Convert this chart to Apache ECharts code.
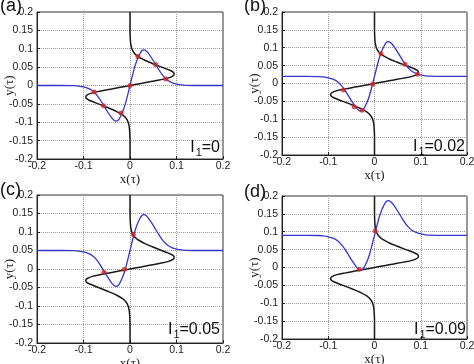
<!DOCTYPE html>
<html>
<head>
<meta charset="utf-8">
<script src="https://cdn.jsdelivr.net/npm/echarts@6/dist/echarts.min.js"></script>
<style>
html,body{margin:0;padding:0;background:#fff;}
#c{width:474px;height:364px;}
</style>
</head>
<body>
<div id="c"></div>
<script>
// ---- data ----
const xTickLabels = [-0.2, -0.1, 0, 0.1, 0.2];
const yTickLabels = [-0.2, -0.15, -0.1, -0.05, 0, 0.05, 0.1, 0.15, 0.2];
const panelLabels = ['(a)', '(b)', '(c)', '(d)'];
const I1Values = ['0', '0.02', '0.05', '0.09'];

// blue curve y(x) in each panel
const blueX = [-0.2,-0.15,-0.12,-0.11,-0.1,-0.09,-0.08,-0.07,-0.06,-0.05,-0.04,-0.035,-0.03,-0.025,-0.02,-0.015,-0.01,0,0.01,0.015,0.02,0.025,0.03,0.035,0.04,0.05,0.06,0.07,0.08,0.09,0.1,0.11,0.12,0.15,0.2];
const blueA = [0,0,-0.0005,-0.0015,-0.004,-0.008,-0.015,-0.028,-0.047,-0.068,-0.087,-0.094,-0.097,-0.094,-0.083,-0.069,-0.05,0,0.05,0.069,0.083,0.094,0.097,0.094,0.087,0.068,0.047,0.028,0.015,0.008,0.004,0.0015,0.0005,0,0];
const blueB = [0.02,0.02,0.0195,0.0185,0.016,0.012,0.005,-0.008,-0.027,-0.048,-0.067,-0.074,-0.077,-0.074,-0.063,-0.049,-0.03,0.02,0.07,0.089,0.103,0.114,0.117,0.114,0.107,0.088,0.067,0.048,0.035,0.028,0.024,0.0215,0.0205,0.02,0.02];
const blueC = [0.05,0.05,0.0495,0.0485,0.046,0.042,0.035,0.022,0.003,-0.018,-0.037,-0.044,-0.047,-0.044,-0.033,-0.019,0,0.05,0.1,0.119,0.133,0.144,0.147,0.144,0.137,0.118,0.097,0.078,0.065,0.058,0.054,0.0515,0.0505,0.05,0.05];
const blueD = [0.09,0.09,0.0895,0.0885,0.086,0.082,0.075,0.062,0.043,0.022,0.003,-0.004,-0.007,-0.004,0.007,0.021,0.04,0.09,0.14,0.159,0.173,0.184,0.187,0.184,0.177,0.158,0.137,0.118,0.105,0.098,0.094,0.0915,0.0905,0.09,0.09];

// black curve x(y), same in all panels
const blackY = [-0.2,-0.15,-0.13,-0.12,-0.11,-0.1,-0.09,-0.08,-0.07,-0.06,-0.05,-0.04,-0.035,-0.03,-0.025,-0.02,-0.015,-0.01,-0.005,0,0.005,0.01,0.015,0.02,0.025,0.03,0.035,0.04,0.05,0.06,0.07,0.08,0.09,0.1,0.11,0.12,0.13,0.15,0.2];
const blackX = [0,0,-0.0005,-0.001,-0.002,-0.004,-0.008,-0.016,-0.03,-0.048,-0.068,-0.088,-0.094,-0.095,-0.091,-0.081,-0.063,-0.042,-0.021,0,0.021,0.042,0.063,0.081,0.091,0.095,0.094,0.088,0.068,0.048,0.03,0.016,0.008,0.004,0.002,0.001,0.0005,0,0];

// red intersection dots
const redXa = [0.017,0.055,0.077,0,-0.077,-0.057,-0.019];
const redYa = [0.079,0.057,0.018,0,-0.018,-0.055,-0.075];
const redXb = [0.014,0.066,0.093,-0.004,-0.067,-0.044,-0.027];
const redYb = [0.083,0.054,0.026,-0.002,-0.018,-0.065,-0.075];
const redXc = [0.007,-0.012,-0.056];
const redYc = [0.093,-0.001,-0.009];
const redXd = [0.0015,-0.033];
const redYd = [0.102,-0.005];

const blues = [blueA, blueB, blueC, blueD];
const redsX = [redXa, redXb, redXc, redXd];
const redsY = [redYa, redYb, redYc, redYd];

// ---- layout ----
const grids = [
  {left: 37, top: 12, width: 186, height: 147},
  {left: 282, top: 12, width: 185, height: 143},
  {left: 37, top: 195, width: 186, height: 148},
  {left: 282, top: 196, width: 185, height: 143}
];
const labelFont = 'Liberation Sans, Arial, sans-serif';
const zip = (a, b) => a.map((v, i) => [v, b[i]]);
const fmt = v => String(parseFloat(Number(v).toFixed(2)));

const option = {
  animation: false,
  backgroundColor: '#fff',
  grid: grids.map(g => Object.assign({show: true, borderColor: '#333', borderWidth: 1, backgroundColor: 'transparent', containLabel: false, outerBoundsMode: 'none'}, g)),
  xAxis: grids.map((g, i) => ({
    type: 'value', gridIndex: i,
    min: xTickLabels[0], max: xTickLabels[xTickLabels.length - 1],
    interval: xTickLabels[1] - xTickLabels[0],
    name: 'x(τ)', nameLocation: 'middle', nameGap: 9,
    nameTextStyle: {fontFamily: 'Liberation Serif, Times New Roman, serif', fontSize: 13, color: '#222'},
    axisLine: {show: true, onZero: false, lineStyle: {color: '#222', width: 1}},
    axisTick: {show: true, inside: true, length: 3, lineStyle: {color: '#222'}},
    axisLabel: {margin: 2, fontSize: 10.5, fontFamily: labelFont, color: '#222', showMinLabel: true, showMaxLabel: true, hideOverlap: false, formatter: fmt},
    splitLine: {show: true, lineStyle: {type: 'dotted', color: '#999', width: 1}}
  })),
  yAxis: grids.map((g, i) => ({
    type: 'value', gridIndex: i,
    min: yTickLabels[0], max: yTickLabels[yTickLabels.length - 1],
    interval: yTickLabels[1] - yTickLabels[0],
    name: 'y(τ)', nameLocation: 'middle', nameGap: 21, nameRotate: 90, nameMoveOverlap: false,
    nameTextStyle: {fontFamily: 'Liberation Serif, Times New Roman, serif', fontSize: 13, color: '#222'},
    axisLine: {show: true, onZero: false, lineStyle: {color: '#222', width: 1}},
    axisTick: {show: true, inside: true, length: 3, lineStyle: {color: '#222'}},
    axisLabel: {margin: 4, fontSize: 10.5, fontFamily: labelFont, color: '#222', showMinLabel: true, showMaxLabel: true, hideOverlap: false, formatter: fmt},
    splitLine: {show: true, lineStyle: {type: 'dotted', color: '#999', width: 1}}
  })),
  title: [],
  series: []
};

const panelPos = [{left: 0, top: -3}, {left: 244, top: -3}, {left: 0, top: 181}, {left: 244, top: 183}];
const I1Pos = [{right: 254, top: 140}, {right: 9, top: 139}, {right: 254, top: 322}, {right: 8, top: 322}];

grids.forEach((g, i) => {
  option.title.push(Object.assign({
    text: panelLabels[i], padding: 0,
    textStyle: {fontFamily: labelFont, fontSize: 18, fontWeight: 'normal', color: '#111'}
  }, panelPos[i]));
  option.title.push(Object.assign({
    text: '{m|I}{s|1}{m|=' + I1Values[i] + '}', padding: 0,
    textStyle: {
      fontFamily: labelFont, fontSize: 16, fontWeight: 'normal', color: '#111',
      rich: {
        m: {fontFamily: labelFont, fontSize: 16, lineHeight: 16, verticalAlign: 'top', color: '#111'},
        s: {fontFamily: labelFont, fontSize: 11, lineHeight: 12, padding: [7, 0, 0, 1], verticalAlign: 'top', color: '#111'}
      }
    }
  }, I1Pos[i]));
  option.series.push({
    type: 'line', xAxisIndex: i, yAxisIndex: i,
    data: zip(blackX, blackY), smooth: 0.35, showSymbol: false,
    lineStyle: {color: '#1a1a1a', width: 1.5}, z: 2
  });
  option.series.push({
    type: 'line', xAxisIndex: i, yAxisIndex: i,
    data: zip(blueX, blues[i]), smooth: 0.35, showSymbol: false,
    lineStyle: {color: '#3636cc', width: 1.3}, z: 3
  });
  option.series.push({
    type: 'scatter', xAxisIndex: i, yAxisIndex: i,
    data: zip(redsX[i], redsY[i]), symbolSize: 5,
    itemStyle: {color: '#d42424'}, z: 4
  });
});

const chart = echarts.init(document.getElementById('c'), null, {renderer: 'canvas'});
chart.setOption(option);
</script>
</body>
</html>
